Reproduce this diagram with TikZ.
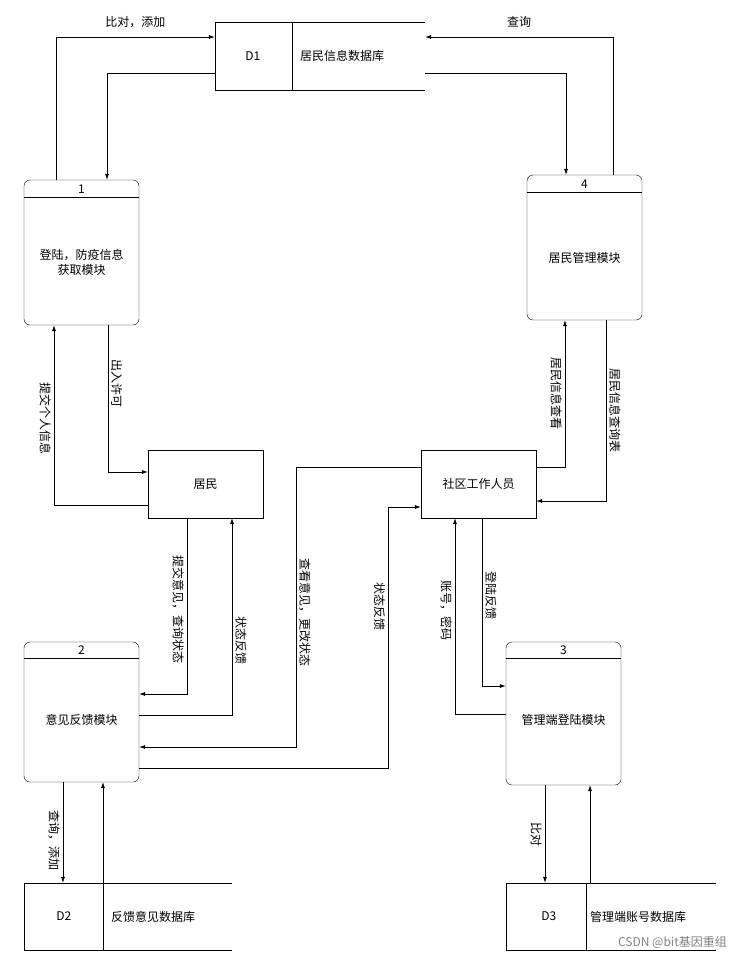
\documentclass[tikz,border=0pt]{standalone}
\usepackage{fontspec}
\setmainfont{Noto Sans CJK SC}
\usetikzlibrary{calc,arrows.meta}

\begin{document}
\begin{tikzpicture}[x=1pt,y=-1pt,font=\fontsize{12}{15}\selectfont,
  every node/.style={inner sep=1pt},
  proc/.style={draw,rounded corners=6pt,minimum width=115pt},
  ext/.style={draw,minimum width=115pt,minimum height=68pt},
  store/.style={minimum height=67pt},
  flow/.style={-{Latex[length=6pt,width=4pt]},line width=0.6pt},
  lbl/.style={rotate=-90,inner sep=3pt}]
  \useasboundingbox (0,0) rectangle (742,961);

  % data stores
  \node [store,minimum width=210pt] (d1) at (320,56) {};
  \draw (d1.north east) -- (d1.north west) -- (d1.south west) -- (d1.south east);
  \draw ($(d1.north west)+(77,0)$) -- ($(d1.south west)+(77,0)$);
  \node at ($(d1.west)+(38,0)$) {D1};
  \node [anchor=west] at ($(d1.west)+(84,0)$) {居民信息数据库};

  \node [store,minimum width=208pt] (d2) at (128,916.5) {};
  \draw (d2.north east) -- (d2.north west) -- (d2.south west) -- (d2.south east);
  \draw ($(d2.north west)+(79,0)$) -- ($(d2.south west)+(79,0)$);
  \node at ($(d2.west)+(40,0)$) {D2};
  \node [anchor=west] at ($(d2.west)+(86,0)$) {反馈意见数据库};

  \node [store,minimum width=210pt] (d3) at (611,916.5) {};
  \draw (d3.north east) -- (d3.north west) -- (d3.south west) -- (d3.south east);
  \draw ($(d3.north west)+(80,0)$) -- ($(d3.south west)+(80,0)$);
  \node at ($(d3.west)+(43,0)$) {D3};
  \node [anchor=west] at ($(d3.west)+(83,0)$) {管理端账号数据库};

  % processes
  \node [proc,minimum height=145pt] (p1) at (81.5,252.5) {};
  \draw ($(p1.north west)+(0,17)$) -- ($(p1.north east)+(0,17)$);
  \node at ($(p1.north)+(0,9)$) {1};
  \node [align=center] at ($(p1.center)+(0,10)$) {登陆，防疫信息\\获取模块};

  \node [proc,minimum height=145pt] (p4) at (584.5,247.5) {};
  \draw ($(p4.north west)+(0,17)$) -- ($(p4.north east)+(0,17)$);
  \node at ($(p4.north)+(0,9)$) {4};
  \node at ($(p4.center)+(0,10)$) {居民管理模块};

  \node [proc,minimum height=140pt] (p2) at (81.5,712) {};
  \draw ($(p2.north west)+(0,16)$) -- ($(p2.north east)+(0,16)$);
  \node at ($(p2.north)+(0,8)$) {2};
  \node at ($(p2.center)+(0,8)$) {意见反馈模块};

  \node [proc,minimum height=143pt] (p3) at (563.5,713.5) {};
  \draw ($(p3.north west)+(0,16)$) -- ($(p3.north east)+(0,16)$);
  \node at ($(p3.north)+(0,8)$) {3};
  \node at ($(p3.center)+(0,6)$) {管理端登陆模块};

  % external entities
  \node [ext] (r) at (205.5,484) {居民};
  \node [ext] (s) at (478.5,484) {社区工作人员};

  % flows
  \draw [flow] ($(p1.north)+(-25.5,0)$) |- node [pos=0.75,above=8pt] {比对，添加} ($(d1.west)+(0,-19)$);
  \draw [flow] ($(d1.west)+(0,17)$) -| ($(p1.north)+(25.5,0)$);
  \draw [flow] ($(d1.east)+(0,17)$) -| ($(p4.north)+(-18.5,0)$);
  \draw [flow] ($(p4.north)+(28.5,0)$) |- node [pos=0.75,above=8pt] {查询} ($(d1.east)+(0,-19)$);

  \draw [flow] ($(r.west)+(0,21)$) -| node [lbl,pos=0.74,anchor=north] {提交个人信息} ($(p1.south)+(-27.5,0)$);
  \draw [flow] ($(p1.south)+(26.5,0)$) |- node [lbl,pos=0.2,anchor=south] {出入许可} ($(r.west)+(0,-12)$);
  \draw [flow] ($(r.south)+(-18.5,0)$) |- node [lbl,pos=0.26,anchor=north] {提交意见，查询状态} ($(p2.east)+(0,-18)$);
  \draw [flow] ($(p2.east)+(0,3)$) -| node [lbl,pos=0.69,anchor=south] {状态反馈} ($(r.south)+(26.5,0)$);

  \draw [flow] ($(s.west)+(0,-17)$) -- ++(-125,0) |- node [lbl,pos=0.26,anchor=south] {查看意见，更改状态} ($(p2.east)+(0,35)$);
  \draw [flow] ($(p2.east)+(0,56)$) -- ++(249,0) |- node [lbl,pos=0.31,anchor=north] {状态反馈} ($(s.west)+(0,23)$);

  \draw [flow] ($(s.east)+(0,-17)$) -| node [lbl,pos=0.75,anchor=north] {居民信息查看} ($(p4.south)+(-19.5,0)$);
  \draw [flow] ($(p4.south)+(21.5,0)$) |- node [lbl,pos=0.25,anchor=south] {居民信息查询表} ($(s.east)+(0,17)$);

  \draw [flow] ($(p3.west)+(0,0.5)$) -| node [lbl,pos=0.765,anchor=north] {账号，密码} ($(s.south)+(-23.5,0)$);
  \draw [flow] ($(s.south)+(3.5,0)$) |- node [lbl,pos=0.23,anchor=south] {登陆反馈} ($(p3.west)+(0,-27.5)$);

  \draw [flow] ($(p2.south)+(-18.5,0)$) -- node [lbl,pos=0.58,anchor=north] {查询，添加} ($(d2.north)+(-65,0)$);
  \draw [flow] ($(d2.north)+(-25,0)$) -- ($(p2.south)+(21.5,0)$);
  \draw [flow] ($(p3.south)+(-18.5,0)$) -- node [lbl,pos=0.5,anchor=north] {比对} ($(d3.north)+(-66,0)$);
  \draw [flow] ($(d3.north)+(-21,0)$) -- ($(p3.south)+(26.5,0)$);

  \node [gray,anchor=east] (mark) at (728,942) {CSDN @bit基因重组};
\end{tikzpicture}
\end{document}
